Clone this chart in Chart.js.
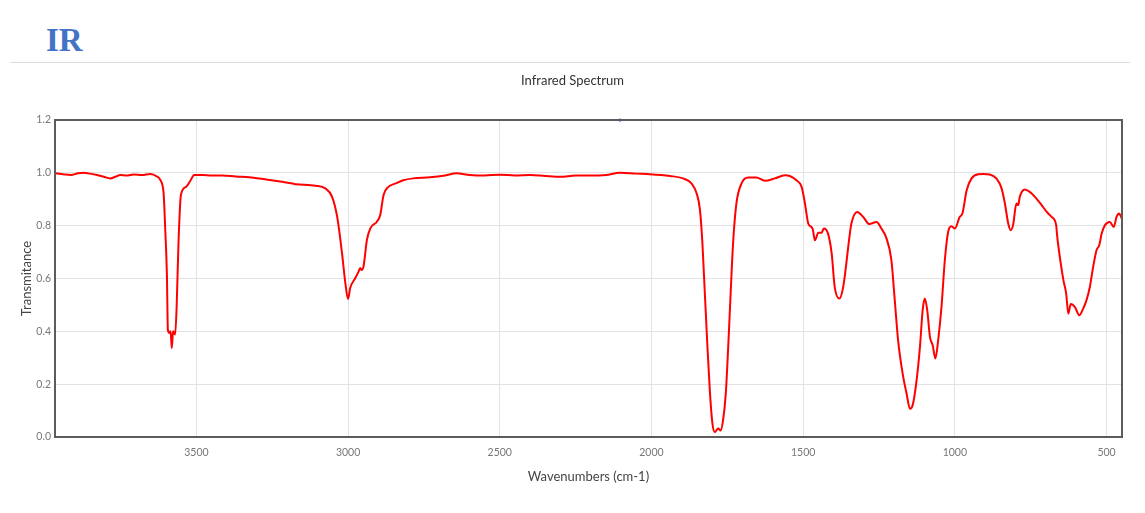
<!DOCTYPE html>
<html>
<head>
<meta charset="utf-8">
<script src="https://cdn.jsdelivr.net/npm/chart.js@4"></script>
<style>
  body { margin: 0; background: #fff; width: 1145px; height: 513px; overflow: hidden; position: relative; }
  #head { position: absolute; left: 46px; top: 24px; font: bold 33px/33px "Liberation Serif", serif; color: #4472c4; }
  #rule { position: absolute; left: 10px; top: 62px; width: 1120px; height: 1px; background: #dcdce0; }
  #ir-chart { position: absolute; left: 0; top: 0; }
</style>
</head>
<body>
<div id="head">IR</div>
<div id="rule"></div>
<canvas id="ir-chart" width="1145" height="513"></canvas>
<script>
// Spectrum (cm-1 and transmittance)
const wavenumbers = [
    3966, 3940, 3914, 3890, 3871, 3850, 3827, 3805, 3784, 3765, 3751, 3730, 3707, 3680, 3652, 3630,
    3619, 3608, 3603, 3597, 3594, 3589, 3585, 3581, 3577, 3570, 3565, 3559, 3551, 3534, 3520, 3507,
    3480, 3450, 3414, 3370, 3326, 3270, 3217, 3173, 3107, 3075, 3053, 3036, 3020, 3009, 3000, 2993,
    2976, 2965, 2960, 2955, 2949, 2938, 2927, 2905, 2894, 2883, 2867, 2845, 2818, 2785, 2730, 2680,
    2643, 2599, 2550, 2500, 2450, 2400, 2350, 2300, 2250, 2200, 2150, 2104, 2050, 2005, 1939, 1896,
    1868, 1851, 1840, 1832, 1824, 1816, 1807, 1799, 1791, 1780, 1772, 1764, 1755, 1747, 1739, 1731,
    1720, 1703, 1681, 1654, 1626, 1593, 1560, 1544, 1522, 1505, 1494, 1483, 1469, 1461, 1450, 1439,
    1432, 1418, 1406, 1396, 1381, 1368, 1346, 1341, 1322, 1302, 1282, 1258, 1242, 1225, 1209, 1198,
    1187, 1172, 1159, 1148, 1139, 1126, 1115, 1106, 1099, 1091, 1082, 1073, 1064, 1055, 1044, 1033,
    1022, 1011, 1000, 984, 975, 961, 945, 923, 907, 885, 863, 846, 835, 824, 816, 808,
    797, 791, 786, 769, 753, 736, 714, 697, 681, 666, 663, 654, 642, 633, 626, 618,
    604, 590, 577, 566, 555, 544, 533, 524, 516, 505, 489, 476, 467, 458, 450
];
const transmittance = [
    0.998, 0.995, 0.992, 0.998, 1.0, 0.997, 0.992, 0.985, 0.979, 0.986, 0.992, 0.99, 0.994, 0.992, 0.996, 0.986,
    0.973, 0.922, 0.796, 0.608, 0.406, 0.394, 0.40, 0.337, 0.40, 0.388, 0.494, 0.733, 0.916, 0.947, 0.97, 0.992,
    0.992, 0.99, 0.99, 0.986, 0.983, 0.975, 0.966, 0.957, 0.951, 0.941, 0.91, 0.834, 0.696, 0.583, 0.522, 0.564,
    0.602, 0.627, 0.64, 0.632, 0.646, 0.745, 0.789, 0.815, 0.84, 0.916, 0.947, 0.959, 0.972, 0.979, 0.983, 0.99,
    0.998, 0.992, 0.99, 0.993, 0.99, 0.992, 0.988, 0.985, 0.99, 0.99, 0.992, 1.0, 0.997, 0.995, 0.988, 0.979,
    0.96, 0.922, 0.859, 0.733, 0.543, 0.354, 0.164, 0.051, 0.019, 0.032, 0.025, 0.063, 0.164, 0.341, 0.543, 0.733,
    0.884, 0.96, 0.982, 0.982, 0.97, 0.979, 0.991, 0.988, 0.972, 0.947, 0.884, 0.808, 0.789, 0.745, 0.773, 0.773,
    0.789, 0.77, 0.695, 0.568, 0.524, 0.568, 0.77, 0.808, 0.852, 0.833, 0.806, 0.814, 0.789, 0.751, 0.669, 0.518,
    0.366, 0.24, 0.164, 0.107, 0.12, 0.215, 0.341, 0.48, 0.524, 0.48, 0.379, 0.347, 0.297, 0.366, 0.492, 0.669,
    0.777, 0.798, 0.789, 0.833, 0.846, 0.934, 0.979, 0.995, 0.996, 0.994, 0.979, 0.941, 0.884, 0.808, 0.783, 0.802,
    0.884, 0.878, 0.909, 0.937, 0.928, 0.909, 0.878, 0.852, 0.833, 0.802, 0.764, 0.682, 0.593, 0.543, 0.467, 0.503,
    0.492, 0.461, 0.486, 0.518, 0.568, 0.644, 0.707, 0.726, 0.77, 0.802, 0.814, 0.795, 0.833, 0.846, 0.827
];

// the little blue marker sitting on the top border
const markerWavenumber = [2104];
const markerValue = [1.2];

const xTickValues = [3500, 3000, 2500, 2000, 1500, 1000, 500];

const spectrum = wavenumbers.map((w, i) => ({ x: w, y: transmittance[i] }));
const marker = markerWavenumber.map((w, i) => ({ x: w, y: markerValue[i] }));

// draw a frame all around the plot area
const frame = {
    id: 'frame',
    afterDraw(chart) {
        const { ctx, chartArea: a } = chart;
        ctx.save();
        ctx.strokeStyle = '#5c5c5c';
        ctx.lineWidth = 2;
        ctx.strokeRect(a.left, a.top, a.right - a.left, a.bottom - a.top);
        ctx.restore();
    }
};

const textFont = 'Lato, "Open Sans", sans-serif';

new Chart(document.getElementById('ir-chart'), {
    type: 'line',
    data: {
        datasets: [
            {
                label: 'IR',
                data: spectrum,
                borderColor: '#ff0000',
                borderWidth: 2,
                pointRadius: 0,
                cubicInterpolationMode: 'monotone',
                fill: false,
            },
            {
                label: 'marker',
                data: marker,
                showLine: false,
                pointRadius: 1.5,
                pointBorderWidth: 0,
                pointBackgroundColor: '#0000ff',
                clip: false,
            },
        ],
    },
    options: {
        responsive: false,
        animation: false,
        devicePixelRatio: 1,
        layout: { padding: 0 },
        plugins: {
            legend: { display: false },
            tooltip: { enabled: false },
            title: {
                display: true,
                text: 'Infrared Spectrum',
                color: '#333',
                font: { family: textFont, size: 13, weight: 'normal' },
                padding: { top: 73, bottom: 31.4 },
            },
        },
        scales: {
            x: {
                type: 'linear',
                reverse: true,
                min: 449,
                max: 3966,
                afterBuildTicks: (scale) => {
                    scale.ticks = xTickValues.map(v => ({ value: v }));
                },
                afterFit: (scale) => { scale.height = 76; },
                grid: { color: '#e2e2e2', drawTicks: false },
                border: { display: false },
                ticks: {
                    color: '#777',
                    padding: 9,
                    font: { family: textFont, size: 10.5 },
                    callback: (v) => String(v),
                },
                title: {
                    display: true,
                    text: 'Wavenumbers (cm-1)',
                    color: '#444',
                    font: { family: textFont, size: 13 },
                    padding: { top: 4, bottom: 28 },
                },
            },
            y: {
                min: 0,
                max: 1.2,
                afterFit: (scale) => { scale.width = 55; },
                grid: { color: '#e2e2e2', drawTicks: false },
                border: { display: false },
                ticks: {
                    stepSize: 0.2,
                    color: '#777',
                    padding: 4,
                    font: { family: textFont, size: 10.5 },
                    callback: (v) => v.toFixed(1),
                },
                title: {
                    display: true,
                    text: 'Transmitance',
                    color: '#444',
                    font: { family: textFont, size: 13 },
                    padding: { top: 19, bottom: 4 },
                },
            },
            // empty strip on the right so the plot ends before the page edge
            spacer: {
                position: 'right',
                min: 0,
                max: 1.2,
                afterFit: (scale) => { scale.width = 23; },
                grid: { display: false },
                border: { display: false },
                ticks: { display: false },
            },
        },
    },
    plugins: [frame],
});
</script>
</body>
</html>
